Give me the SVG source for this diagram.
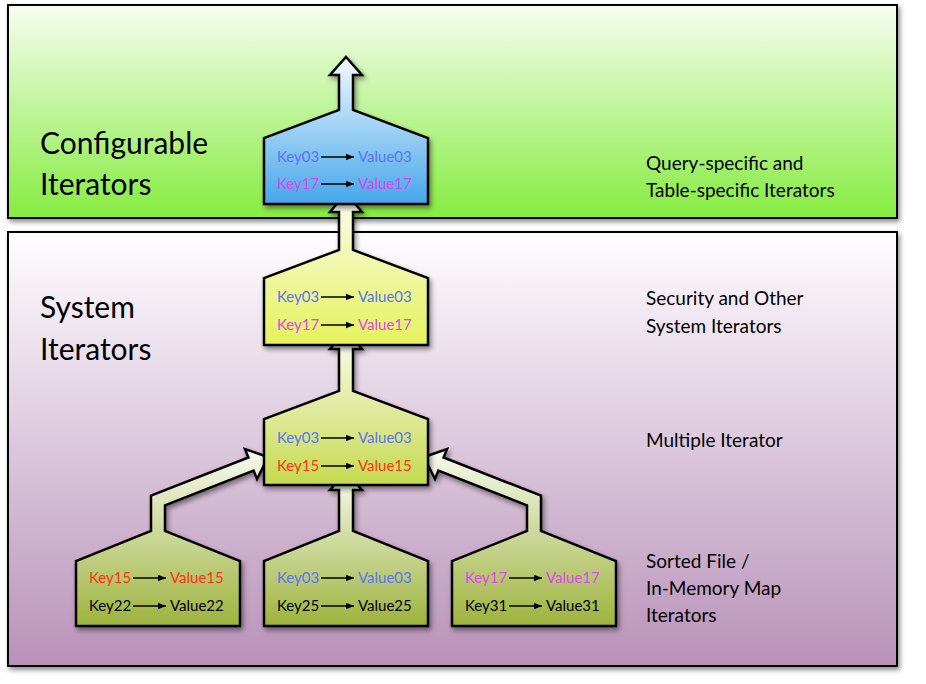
<svg xmlns="http://www.w3.org/2000/svg" width="926" height="684" viewBox="0 0 926 684">
<defs>
<linearGradient id="gGreen" x1="0" y1="0" x2="0" y2="1"><stop offset="0" stop-color="#f6fdf0"/><stop offset="1" stop-color="#86ec40"/></linearGradient>
<linearGradient id="gPurple" x1="0" y1="0" x2="0" y2="1"><stop offset="0" stop-color="#fefdfe"/><stop offset="1" stop-color="#b891b9"/></linearGradient>
<linearGradient id="gBlue" x1="0" y1="0" x2="0" y2="1"><stop offset="0" stop-color="#f4faff"/><stop offset="1" stop-color="#45a6ea"/></linearGradient>
<linearGradient id="gYel" x1="0" y1="0" x2="0" y2="1"><stop offset="0" stop-color="#fbfdf2"/><stop offset="1" stop-color="#e4f25a"/></linearGradient>
<linearGradient id="gMul" x1="0" y1="0" x2="0" y2="1"><stop offset="0" stop-color="#fbfcf4"/><stop offset="1" stop-color="#c5da4e"/></linearGradient>
<linearGradient id="gOl" x1="0" y1="0" x2="0" y2="1"><stop offset="0" stop-color="#f8faf0"/><stop offset="1" stop-color="#9db33c"/></linearGradient>
<filter id="sh" x="-10%" y="-10%" width="130%" height="130%"><feDropShadow dx="2" dy="3" stdDeviation="2.5" flood-color="#000" flood-opacity="0.45"/></filter>
<marker id="ah" viewBox="0 0 10 10" refX="10" refY="5" markerWidth="5" markerHeight="5" orient="auto"><path d="M0,1 L10,5 L0,9 z" fill="#000"/></marker>
</defs>
<style>
.panel{stroke:#000;stroke-width:2;filter:url(#sh)}
.node{stroke:#000;stroke-width:2.5;stroke-linejoin:miter;filter:url(#sh)}
text{font-family:"Lato","Open Sans","Liberation Sans",sans-serif}
.big{font-size:30px;fill:#000}
.lab{font-size:19px;fill:#000}
.kv{font-size:15px}
.b{fill:#5a74f0}.m{fill:#dd44ee}.r{fill:#ff3311}.k{fill:#000}
.kl{stroke:#000;stroke-width:1.6;marker-end:url(#ah)}
</style>
<rect class="panel" x="8" y="5" width="889" height="213" fill="url(#gGreen)"/>
<rect class="panel" x="8" y="232" width="889" height="434" fill="url(#gPurple)"/>
<g id="labels">
<text class="big" x="40" y="154">Configurable</text>
<text class="big" x="40" y="195">Iterators</text>
<text class="big" x="40" y="318">System</text>
<text class="big" x="40" y="360">Iterators</text>
<text class="lab" x="646" y="170">Query-specific and</text>
<text class="lab" x="646" y="197">Table-specific Iterators</text>
<text class="lab" x="646" y="305">Security and Other</text>
<text class="lab" x="646" y="333">System Iterators</text>
<text class="lab" x="646" y="447">Multiple Iterator</text>
<text class="lab" x="646" y="568">Sorted File /</text>
<text class="lab" x="646" y="595">In-Memory Map</text>
<text class="lab" x="646" y="622">Iterators</text>
</g>
<g id="connectors"></g>
<g id="n-sorted-left">
<polygon class="node" fill="url(#gOl)" points="151,531 151,495.7 248.4,457.5 245,449 268,457 257,479 253.6,470.5 165,505.3 165,531 240,561 240,626 76,626 76,561"/>
<text class="kv r" x="89" y="583">Key15</text><line class="kl" x1="133" y1="578" x2="166" y2="578"/><text class="kv r" x="170" y="583">Value15</text>
<text class="kv k" x="89" y="611">Key22</text><line class="kl" x1="133" y1="606" x2="166" y2="606"/><text class="kv k" x="170" y="611">Value22</text>
</g>
<g id="n-sorted-mid">
<polygon class="node" fill="url(#gOl)" points="346,472 362,490 353,490 353,531 428,561 428,626 264,626 264,561 339,531 339,490 330,490"/>
<text class="kv b" x="277" y="583">Key03</text><line class="kl" x1="321" y1="578" x2="354" y2="578"/><text class="kv b" x="358" y="583">Value03</text>
<text class="kv k" x="277" y="611">Key25</text><line class="kl" x1="321" y1="606" x2="354" y2="606"/><text class="kv k" x="358" y="611">Value25</text>
</g>
<g id="n-sorted-right">
<polygon class="node" fill="url(#gOl)" points="541,531 541,495.7 443.6,457.5 447,449 424,457 435,479 438.4,470.5 527,505.3 527,531 452,561 452,626 616,626 616,561"/>
<text class="kv m" x="465" y="583">Key17</text><line class="kl" x1="509" y1="578" x2="542" y2="578"/><text class="kv m" x="546" y="583">Value17</text>
<text class="kv k" x="465" y="611">Key31</text><line class="kl" x1="509" y1="606" x2="542" y2="606"/><text class="kv k" x="546" y="611">Value31</text>
</g>
<g id="n-multiple">
<polygon class="node" fill="url(#gMul)" points="346,330 362,349 353,349 353,391 428,419 428,485 264,485 264,419 339,391 339,349 330,349"/>
<text class="kv b" x="277" y="443">Key03</text><line class="kl" x1="321" y1="438" x2="354" y2="438"/><text class="kv b" x="358" y="443">Value03</text>
<text class="kv r" x="277" y="471">Key15</text><line class="kl" x1="321" y1="466" x2="354" y2="466"/><text class="kv r" x="358" y="471">Value15</text>
</g>
<g id="n-security">
<polygon class="node" fill="url(#gYel)" points="346,193 362,212 353,212 353,250 428,278 428,345 264,345 264,278 339,250 339,212 330,212"/>
<text class="kv b" x="277" y="302">Key03</text><line class="kl" x1="321" y1="297" x2="354" y2="297"/><text class="kv b" x="358" y="302">Value03</text>
<text class="kv m" x="277" y="330">Key17</text><line class="kl" x1="321" y1="325" x2="354" y2="325"/><text class="kv m" x="358" y="330">Value17</text>
</g>
<g id="n-query">
<polygon class="node" fill="url(#gBlue)" points="346,57 362,75 353,75 353,110 428,138 428,204 264,204 264,138 339,110 339,75 330,75"/>
<text class="kv b" x="277" y="162">Key03</text><line class="kl" x1="321" y1="157" x2="354" y2="157"/><text class="kv b" x="358" y="162">Value03</text>
<text class="kv m" x="277" y="189">Key17</text><line class="kl" x1="321" y1="184" x2="354" y2="184"/><text class="kv m" x="358" y="189">Value17</text>
</g>
</svg>
